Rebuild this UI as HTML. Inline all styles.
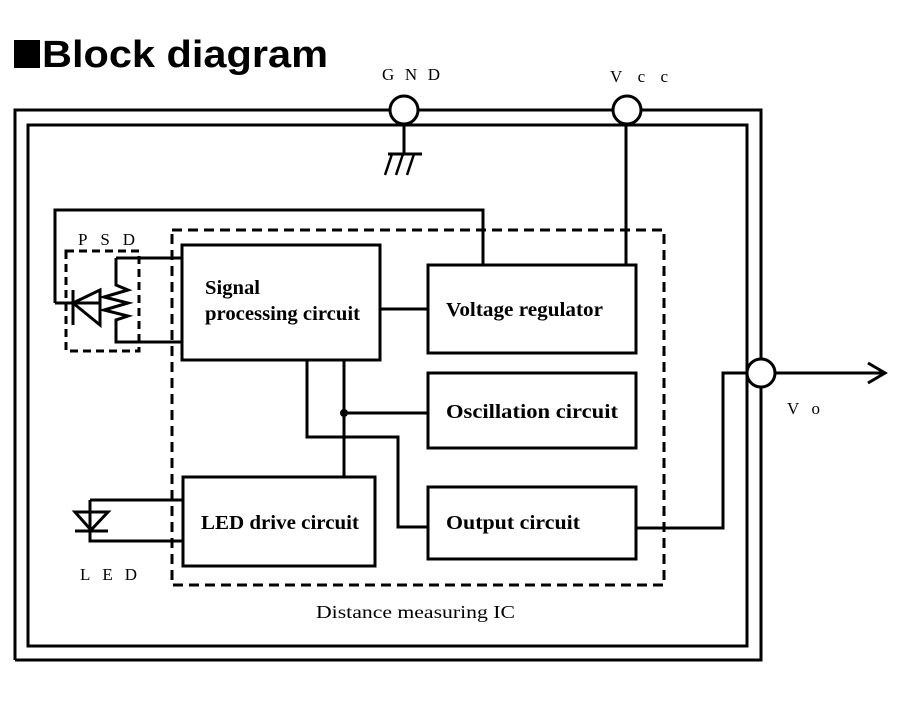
<!DOCTYPE html>
<html><head><meta charset="utf-8"><style>
body{margin:0;background:#fff;width:900px;height:700px;overflow:hidden}
</style></head><body>
<svg width="900" height="700" viewBox="0 0 900 700" xmlns="http://www.w3.org/2000/svg">
<g fill="none" stroke="#000" stroke-width="3">
<path d="M15 660 V110 H389 M419 110 H612 M642 110 H761 V359 M761 387 V660 H15"/>
<path d="M28 646 V125 H747 V646 Z"/>
<circle cx="404" cy="110" r="14" fill="#fff"/>
<circle cx="627" cy="110" r="14" fill="#fff"/>
<circle cx="761" cy="373" r="14" fill="#fff"/>
<path d="M404 124 V154 M388 154 H422"/>
<path d="M392 154 L385 175 M403 154 L396 175 M414 154 L407 175" stroke-width="2.5"/>
<path d="M626 124 V265"/>
<path d="M775 373 H885 M868 363 L885 373 L868 383"/>
<path d="M636 528 H723 V373 H747"/>
<rect x="172" y="230" width="492" height="355" stroke-dasharray="10,6"/>
<rect x="182" y="245" width="198" height="115"/>
<rect x="428" y="265" width="208" height="88"/>
<rect x="428" y="373" width="208" height="75"/>
<rect x="183" y="477" width="192" height="89"/>
<rect x="428" y="487" width="208" height="72"/>
<path d="M380 309 H428"/>
<path d="M55 303 V210 H483 V265"/>
<path d="M344 360 V477 M344 413 H428"/>
<path d="M307 360 V437 H398 V527 H428"/>
<rect x="66" y="251" width="73" height="100" stroke-dasharray="8,5"/>
<path d="M55 303 H100 M73 290 V325 M73 303 L100 290 V325 Z"/>
<path d="M116 258 H182 M116 258 V285 L128 290 L104 297 L128 303 L104 310 L128 316 L116 320 V342 H182"/>
<path d="M90 500 H182 M90 500 V541 H182 M75 512 H108 L91 530 Z M75 531 H108"/>
</g>
<circle cx="344" cy="413" r="4" fill="#000"/>
<g font-family="Liberation Serif, serif" fill="#000">
<text x="382" y="80" font-size="17" textLength="58">GND</text>
<text x="610" y="82" font-size="17" textLength="58">Vcc</text>
<text x="787" y="414" font-size="17" textLength="33">Vo</text>
<text x="78" y="245" font-size="17" textLength="57">PSD</text>
<text x="80" y="580" font-size="17" textLength="57">LED</text>
<g font-size="20" font-weight="bold" lengthAdjust="spacingAndGlyphs">
<text x="205" y="294" textLength="55" lengthAdjust="spacingAndGlyphs">Signal</text>
<text x="205" y="320" textLength="155" lengthAdjust="spacingAndGlyphs">processing circuit</text>
<text x="446" y="316" textLength="157" lengthAdjust="spacingAndGlyphs">Voltage regulator</text>
<text x="446" y="418" textLength="172" lengthAdjust="spacingAndGlyphs">Oscillation circuit</text>
<text x="201" y="529" textLength="158" lengthAdjust="spacingAndGlyphs">LED drive circuit</text>
<text x="446" y="529" textLength="134" lengthAdjust="spacingAndGlyphs">Output circuit</text>
</g>
<text x="316" y="618" font-size="18" textLength="199" lengthAdjust="spacingAndGlyphs">Distance measuring IC</text>
</g>
<rect x="14" y="40" width="26" height="28" fill="#000"/>
<text x="42" y="67" font-family="Liberation Sans, sans-serif" font-weight="bold" font-size="38" fill="#000" textLength="286" lengthAdjust="spacingAndGlyphs">Block diagram</text>
</svg>
</body></html>
